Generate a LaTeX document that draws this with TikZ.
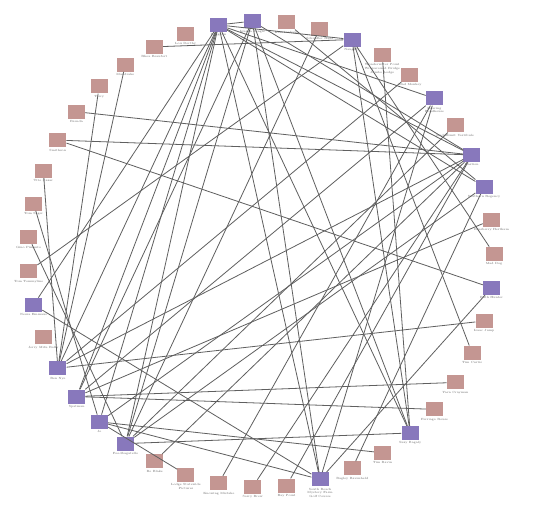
\documentclass[tikz,border=0pt]{standalone}
\definecolor{hub}{RGB}{136,120,188}
\definecolor{leaf}{RGB}{196,150,146}
\definecolor{edgec}{RGB}{95,95,95}
\definecolor{labc}{RGB}{100,100,100}
\begin{document}
\begin{tikzpicture}[x=1pt,y=-1pt,
  box/.style={draw=none,minimum width=17pt,minimum height=14pt,inner sep=0pt},
  H/.style={box,fill=hub}, L/.style={box,fill=leaf},
  lab/.style={font=\fontsize{3}{3.6}\selectfont,text=labc,align=center,inner sep=0.4pt},
  con/.style={draw=edgec,line width=0.8pt}]
\useasboundingbox[fill=white] (0,0) rectangle (534,509);
\foreach \i/\s/\t in {
  1/H/Pangolin, 2/H/Iguana Jungle, 3/L/Krankenhaus, 4/L/Schindler Haus,
  5/H/Naughty, 6/L/{Wonderwater Point\\Wraparound Bridge\\Jumbo Lodge},
  7/L/Mad Monkey, 8/H/{Roaring\\Roadhouse}, 9/L/Rudolfsmit Vestibule,
  10/H/Bastion, 11/H/Northern Regency, 12/L/Rinsberry Hertham,
  13/L/Mad Dog, 14/H/Ruth Hunter, 15/L/Isaac Jump, 16/L/Tim Curtis,
  17/L/Yarn Crayman, 18/L/Ferriago Rouse, 19/H/Suzy Bagaly,
  20/L/Tim Ravin, 21/L/Bagley Ravenheld,
  22/H/{South Beach\\Mystery Farm\\Golf Course}, 23/L/Bay Point,
  24/L/Sorry Brew, 25/L/Knowing Mistake, 26/L/{Lodge Statewide\\Pictures},
  27/L/Bo Blake, 28/H/Foodbagatello, 29/H/Jo, 30/H/Spatman, 31/H/Ben Nye,
  32/L/Jerry Mitu Rolly, 33/H/Nessa Emmaus, 34/L/Tom Tommyline,
  35/L/Gino Pimanto, 36/L/Tom Sager, 37/L/Tito Bazar, 38/L/Smithson,
  39/L/Brenda, 40/L/Terry, 41/L/Mandrake, 42/L/Rhea Beaufort, 43/L/Lou Dorthy}{
  \node[\s] (n\i) at ({261+233*sin(-10.5+(\i-1)*8.372)},{254-233*cos(-10.5+(\i-1)*8.372)}) {};
  \node[lab,anchor=north] (t\i) at ([yshift=-1pt]n\i.south) {\t};
}
\foreach \a/\b in {
  1/2, 1/5, 1/8, 1/10, 1/11, 1/19, 1/22, 1/28, 1/29, 1/30, 1/31, 1/33,
  2/10, 2/19, 2/22, 2/28, 2/30,
  3/11, 4/28, 5/16, 5/19, 5/13, 5/34, 5/42,
  6/19, 7/31, 8/22, 8/30, 9/28,
  10/23, 10/24, 10/27, 10/29, 10/31, 10/38, 10/39,
  11/21, 11/28, 12/30, 14/22, 14/38, 15/31, 17/30, 18/30, 20/29,
  22/29, 22/33, 19/28, 25/8, 26/29, 36/29, 35/28, 37/31, 40/31, 41/31}{
  \draw[con] (n\a) -- (n\b);
}
\end{tikzpicture}
\end{document}
